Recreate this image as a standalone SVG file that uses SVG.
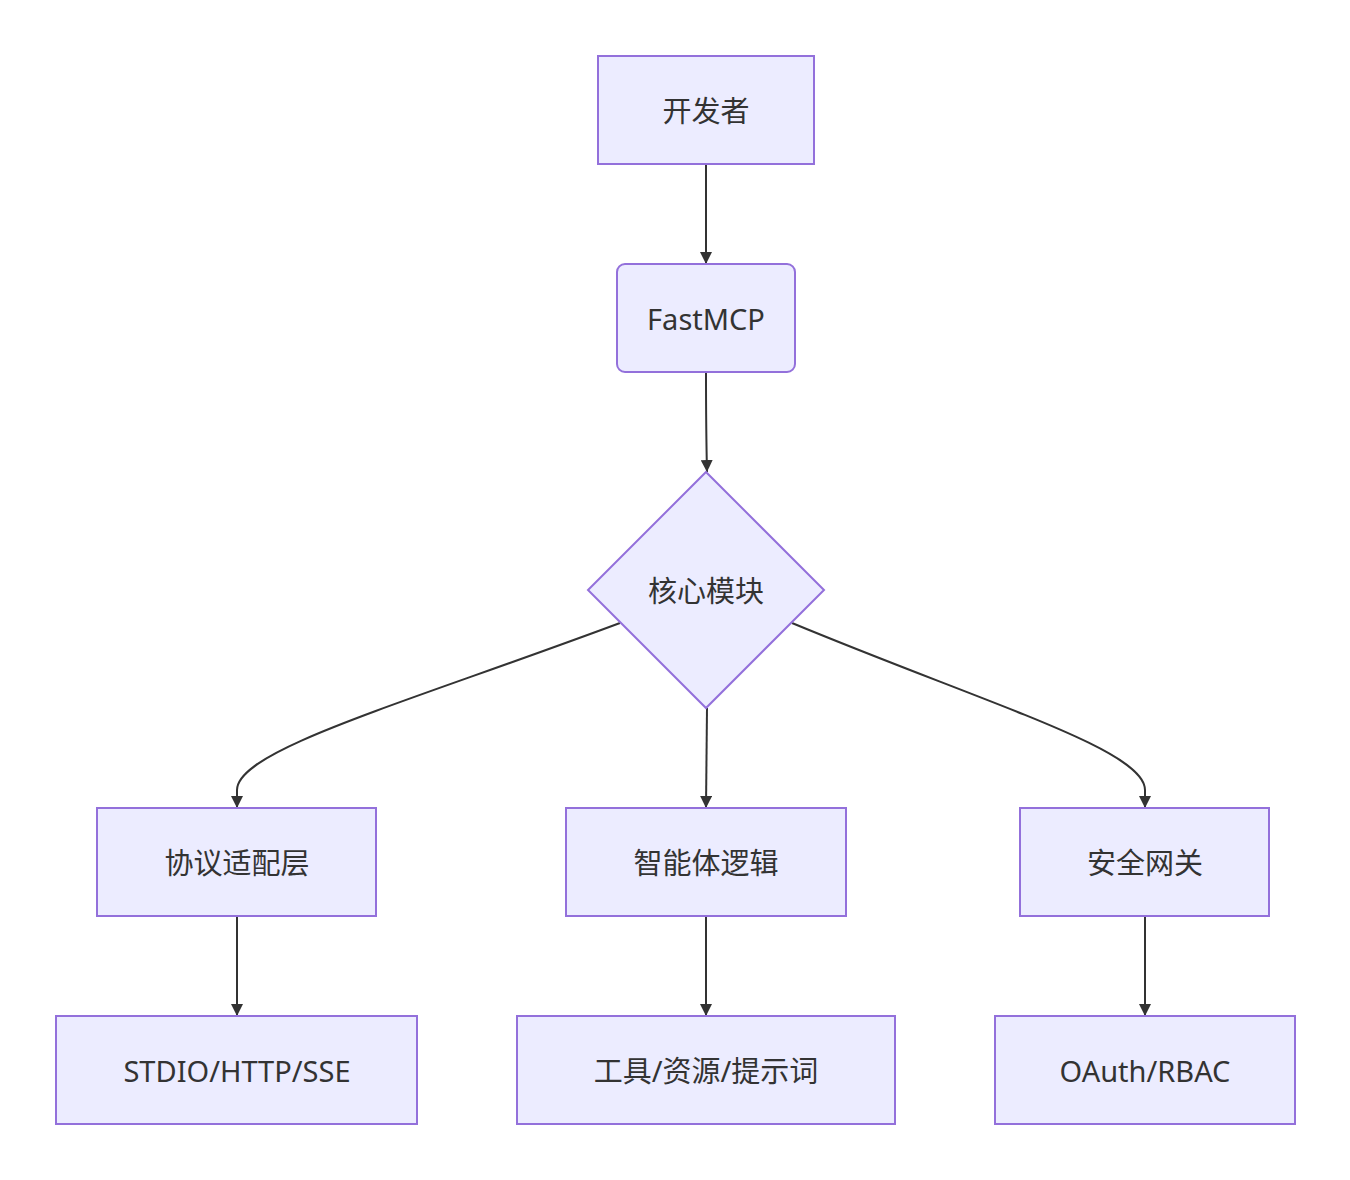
<svg xmlns="http://www.w3.org/2000/svg" width="1350" height="1180" viewBox="0 0 1350 1180">
<style>
.n{fill:#ECECFF;stroke:#9370DB;stroke-width:2}
.t{font-family:"Noto Sans","Noto Sans CJK SC",sans-serif;font-size:29px;fill:#333;text-anchor:middle;dominant-baseline:central}
.e{fill:none;stroke:#333;stroke-width:2;marker-end:url(#a)}
</style>
<defs><marker id="a" viewBox="0 0 10 10" refX="9" refY="5" markerWidth="7" markerHeight="7" markerUnits="userSpaceOnUse" orient="auto"><path d="M0,0L10,5L0,10z" fill="#333"/></marker>
<marker id="b" viewBox="0 0 10 10" refX="10" refY="5" markerWidth="12" markerHeight="12" markerUnits="userSpaceOnUse" orient="auto"><path d="M0,0L10,5L0,10z" fill="#333"/></marker></defs>
<g id="edges" style="--m:url(#b)">
<path class="e" style="marker-end:url(#b)" d="M706,164V264"/>
<path class="e" style="marker-end:url(#b)" d="M706,372Q706,430 707,472"/>
<path class="e" style="marker-end:url(#b)" d="M620,623C400,705 237,750 237,790V808"/>
<path class="e" style="marker-end:url(#b)" d="M707,708L706,808"/>
<path class="e" style="marker-end:url(#b)" d="M792,623C990,705 1145,750 1145,790V808"/>
<path class="e" style="marker-end:url(#b)" d="M237,916V1016"/>
<path class="e" style="marker-end:url(#b)" d="M706,916V1016"/>
<path class="e" style="marker-end:url(#b)" d="M1145,916V1016"/>
</g>
<g id="dev"><rect class="n" x="598" y="56" width="216" height="108"/><text class="t" x="706" y="110">开发者</text></g>
<g id="fastmcp"><rect class="n" x="617" y="264" width="178" height="108" rx="8"/><text class="t" x="706" y="318">FastMCP</text></g>
<g id="core"><polygon class="n" points="706,472 824,590 706,708 588,590"/><text class="t" x="706" y="590">核心模块</text></g>
<g id="proto"><rect class="n" x="97" y="808" width="279" height="108"/><text class="t" x="237" y="862">协议适配层</text></g>
<g id="agent"><rect class="n" x="566" y="808" width="280" height="108"/><text class="t" x="706" y="862">智能体逻辑</text></g>
<g id="sec"><rect class="n" x="1020" y="808" width="249" height="108"/><text class="t" x="1145" y="862">安全网关</text></g>
<g id="stdio"><rect class="n" x="56" y="1016" width="361" height="108"/><text class="t" x="237" y="1070">STDIO/HTTP/SSE</text></g>
<g id="tools"><rect class="n" x="517" y="1016" width="378" height="108"/><text class="t" x="706" y="1070">工具/资源/提示词</text></g>
<g id="oauth"><rect class="n" x="995" y="1016" width="300" height="108"/><text class="t" x="1145" y="1070">OAuth/RBAC</text></g>
</svg>
